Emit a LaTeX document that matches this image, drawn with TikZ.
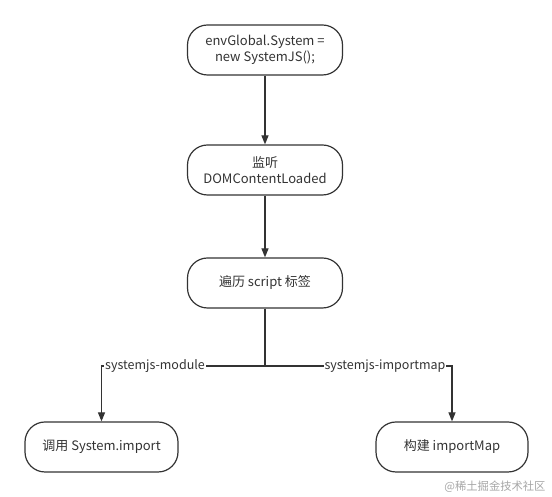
\documentclass[tikz,border=0pt]{standalone}
\usepackage{fontspec}
\setmainfont{Noto Sans CJK SC}
\usetikzlibrary{arrows.meta}
\definecolor{ln}{HTML}{333333}
\tikzset{
  box/.style={draw=ln, line width=1.2pt, rounded corners=20pt, minimum height=50pt, align=center, font=\fontsize{13}{16}\selectfont, text=ln, inner sep=2pt},
  conn/.style={draw=ln, line width=1.2pt, -{Triangle[length=9pt,width=7pt]}},
  lbl/.style={fill=white, inner sep=1pt, font=\fontsize{12.5}{14}\selectfont, text=ln}
}
\begin{document}
\begin{tikzpicture}[x=1pt,y=1pt]
\useasboundingbox (0,0) rectangle (552,497);
\node[box, minimum width=155pt] (a) at (265,447) {envGlobal.System =\\new SystemJS();};
\node[box, minimum width=155pt] (b) at (265,327) {监听\\DOMContentLoaded};
\node[box, minimum width=155pt] (c) at (265,214) {遍历 script 标签};
\node[box, minimum width=153pt] (d) at (101.5,50) {调用 System.import};
\node[box, minimum width=152pt] (e) at (452,50) {构建 importMap};
\coordinate (j) at (265,131);
\draw[conn] (a) -- (b);
\draw[conn] (b) -- (c);
\draw[conn] (c.south) -- (j) -| (d.north);
\draw[conn] (c.south) -- (j) -| (e.north);
\node[lbl] (l1) at (155,131) {systemjs-module};
\node[lbl] (l2) at (385,131) {systemjs-importmap};
\node[font=\fontsize{11.3}{13}\selectfont, text=black!35] (w) at (495,10) {@稀土掘金技术社区};
\end{tikzpicture}
\end{document}
